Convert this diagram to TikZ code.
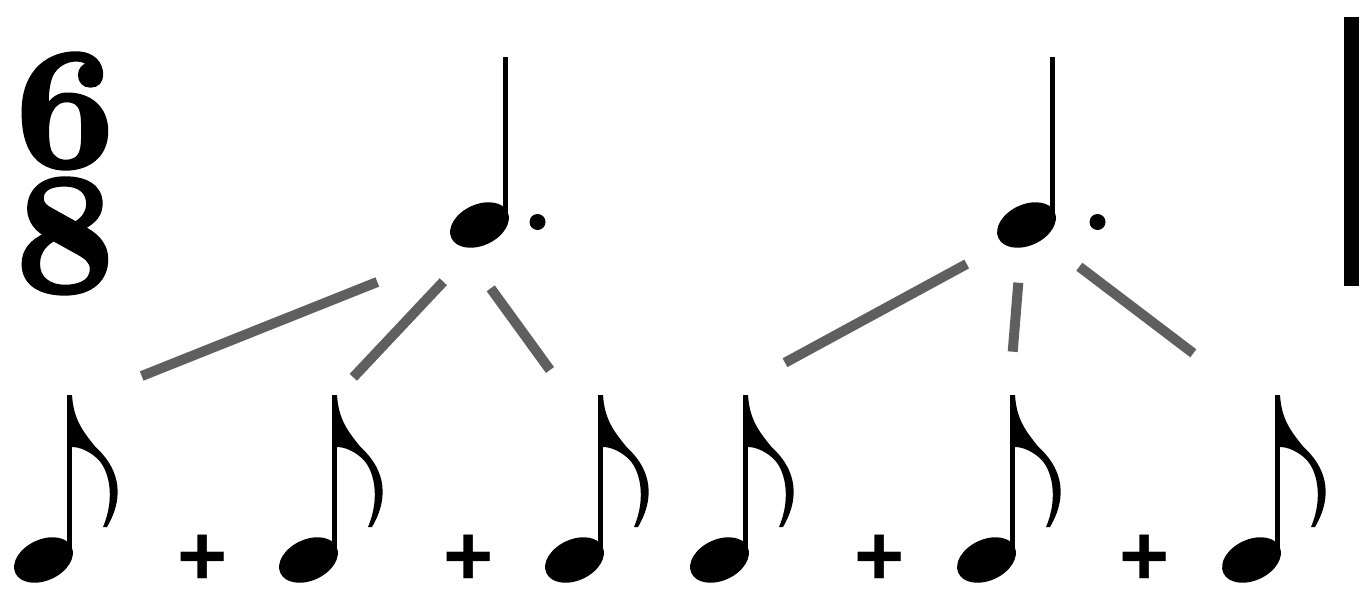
\documentclass[tikz,border=0pt]{standalone}
\usepackage{fontspec}
\newfontfamily\plusfont{Liberation Sans}
\newfontfamily\tsfont{lmroman10-bold.otf}[FakeBold=2]
\definecolor{linkgray}{RGB}{95,95,95}
\tikzset{
  beamlink/.style={draw=linkgray, line width=10pt, line cap=butt},
  plussign/.style={font=\plusfont\bfseries\fontsize{86}{86}\selectfont, inner sep=0pt, anchor=base},
  timesig/.style={font=\tsfont\fontsize{174}{174}\selectfont, inner sep=0pt, anchor=base, text height=0.64em, text depth=0pt},
  eighthnote/.pic={
    \fill[rotate=25] (0,0) ellipse [x radius=31pt, y radius=20.5pt];
    \fill (23.5,-165) rectangle (28.5,-3);
    \fill (28.5,-165) .. controls (30,-140) and (40,-128) .. (52,-113)
      .. controls (72,-95) and (84,-68) .. (63.5,-33) -- (59.5,-33)
      .. controls (72,-62) and (66,-92) .. (52,-103)
      .. controls (45,-109) and (36,-113) .. (28.5,-113) -- cycle;
  },
  dottedquarter/.pic={
    \fill[rotate=25] (0,0) ellipse [x radius=31pt, y radius=20.5pt];
    \fill (23.5,-168) rectangle (28.5,-3);
  },
}
\begin{document}
\begin{tikzpicture}[x=1pt, y=-1pt]
\useasboundingbox (0,0) rectangle (1362,610);
% time signature
\node[timesig] (six) at (65,167) {6};
\node[timesig] (eight) at (65,292) {8};
% dotted quarter notes
\coordinate (q1) at (479.5,225);
\coordinate (q2) at (1026.5,225);
\pic at (q1) {dottedquarter};
\pic at (q2) {dottedquarter};
\fill (537.5,222) circle [radius=8pt];
\fill (1097.5,222) circle [radius=8pt];
% eighth notes
\coordinate (e1) at (43.5,560);
\coordinate (e2) at (308.5,560);
\coordinate (e3) at (574.5,560);
\coordinate (e4) at (719.5,560);
\coordinate (e5) at (986.5,560);
\coordinate (e6) at (1251.5,560);
\foreach \n in {e1,e2,e3,e4,e5,e6} {\pic at (\n) {eighthnote};}
% plus signs
\node[plussign] (p1) at (202.5,585) {+};
\node[plussign] (p2) at (468.3,585) {+};
\node[plussign] (p3) at (880,585) {+};
\node[plussign] (p4) at (1145,585) {+};
% barline
\fill (1344,17) rectangle (1359,286);
% connector ends
\coordinate (a1) at (377.3,282);   \coordinate (b1) at (141.7,376);
\coordinate (a2) at (443.3,281.7); \coordinate (b2) at (353.3,377.3);
\coordinate (a3) at (490.7,288.3); \coordinate (b3) at (550,370);
\coordinate (a4) at (966.7,264);   \coordinate (b4) at (785,362.7);
\coordinate (a5) at (1018.3,282.7);\coordinate (b5) at (1012.7,351.7);
\coordinate (a6) at (1079.3,266.7);\coordinate (b6) at (1193.3,353.3);
\foreach \i in {1,...,6} {\draw[beamlink] (a\i) -- (b\i);}
\end{tikzpicture}
\end{document}
